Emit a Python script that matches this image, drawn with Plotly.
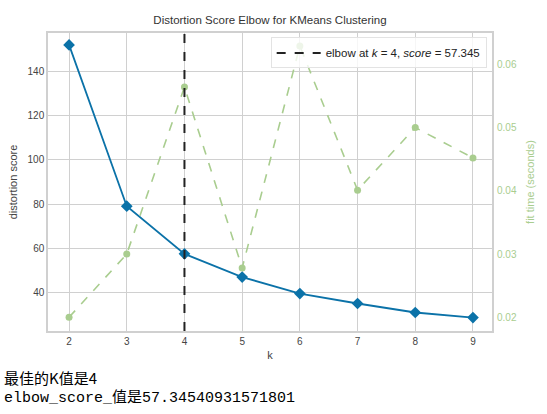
import plotly.graph_objects as go

k_values = [2, 3, 4, 5, 6, 7, 8, 9]
distortion = [152.3, 79.0, 57.345, 46.8, 39.3, 34.8, 30.7, 28.4]
fit_time = [0.0200, 0.0300, 0.0564, 0.0278, 0.0629, 0.0401, 0.0500, 0.0452]
elbow_k = 4
elbow_score = 57.34540931571801
left_ticks = [40, 60, 80, 100, 120, 140]
right_ticks = [0.02, 0.03, 0.04, 0.05, 0.06]

BLUE = "#0b72a8"
GREEN = "#a9cd8f"
TICK = "#444444"
GRID = "#d0d0d0"

fig = go.Figure()

fig.add_trace(go.Scatter(
    x=k_values, y=fit_time, yaxis="y2", mode="lines+markers",
    line=dict(color=GREEN, width=1.6, dash="dash"),
    marker=dict(symbol="circle", size=7, color=GREEN),
    showlegend=False, hoverinfo="skip"))

fig.add_trace(go.Scatter(
    x=k_values, y=distortion, mode="lines+markers",
    line=dict(color=BLUE, width=1.8),
    marker=dict(symbol="diamond", size=9, color=BLUE),
    showlegend=False))

fig.add_trace(go.Scatter(
    x=[None], y=[None], mode="lines",
    line=dict(color="#222222", width=2, dash="dash"),
    name=f"elbow at <i>k</i> = {elbow_k}, <i>score</i> = {elbow_score:.3f}"))

fig.add_vline(x=elbow_k, line=dict(color="#222222", width=2, dash="dash"), layer="above")

fig.update_layout(
    width=547, height=414,
    margin=dict(l=46, r=55, t=33, b=83),
    paper_bgcolor="white", plot_bgcolor="white",
    font=dict(family="Liberation Sans, Arial, sans-serif", size=10, color=TICK),
    title=dict(text="Distortion Score Elbow for KMeans Clustering",
               x=0.5, xref="paper", xanchor="center", y=0.952, yanchor="middle",
               font=dict(size=11.5, color="#333333")),
    xaxis=dict(range=[1.635, 9.33], tickvals=k_values, showgrid=True, gridcolor=GRID,
               gridwidth=1, zeroline=False, showline=True, mirror=True, linecolor=GRID,
               linewidth=1.5, ticks="", tickfont=dict(size=10, color=TICK),
               title=dict(text="k", font=dict(size=11, color=TICK), standoff=6)),
    yaxis=dict(range=[22.3, 157.7], tickvals=left_ticks, showgrid=True, gridcolor=GRID,
               gridwidth=1, zeroline=False, showline=True, mirror=True, linecolor=GRID,
               linewidth=1.5, ticks="", tickfont=dict(size=10, color=TICK),
               title=dict(text="distortion score", font=dict(size=11, color=TICK), standoff=8)),
    yaxis2=dict(range=[0.01783, 0.06495], tickvals=right_ticks, overlaying="y", side="right",
                showgrid=False, zeroline=False, ticks="", tickformat=".2f",
                ticklabelstandoff=4,
                tickfont=dict(size=10, color=GREEN),
                title=dict(text="fit time (seconds)", font=dict(size=11, color=GREEN), standoff=10)),
    legend=dict(x=0.988, y=0.985, xanchor="right", yanchor="top",
                bgcolor="rgba(255,255,255,0.8)", bordercolor="#e3e3e3", borderwidth=1,
                font=dict(size=11.5, color="#222222"), itemwidth=44),
    showlegend=True,
)

fig.add_annotation(text=f"最佳的K值是{elbow_k}", xref="paper", yref="paper",
                   x=-46/446, y=-(377-331)/298, xanchor="left", yanchor="middle",
                   showarrow=False,
                   font=dict(family="Noto Sans CJK SC", size=15, color="#000000"))
fig.add_annotation(text=f"elbow_score_值是{elbow_score}", xref="paper", yref="paper",
                   x=-46/446, y=-(398-331)/298, xanchor="left", yanchor="middle",
                   showarrow=False,
                   font=dict(family="Liberation Mono, Noto Sans CJK SC, monospace", size=15, color="#000000"))

fig.write_html("out.html")
